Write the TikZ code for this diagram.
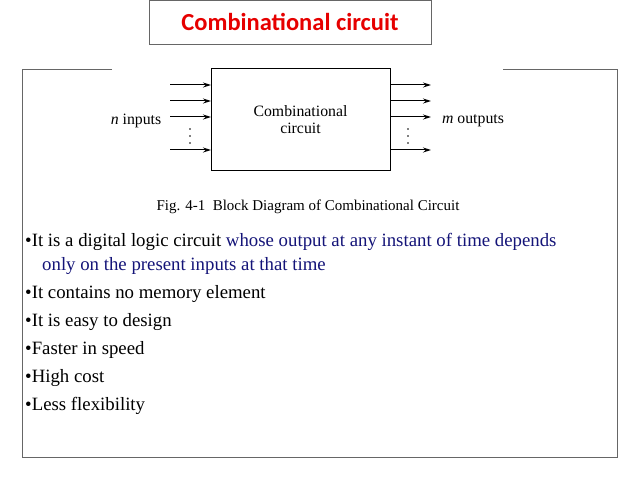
\documentclass[tikz,border=0pt]{standalone}
\usepackage{fontspec}
\usetikzlibrary{arrows.meta}
\setmainfont{Liberation Serif}
\newfontfamily\carl{Carlito}
\definecolor{navy}{RGB}{20,20,120}
\definecolor{tred}{RGB}{230,0,0}
\begin{document}
\begin{tikzpicture}[x=1pt,y=-1pt,
  frm/.style={draw=black!60,line width=0.8pt},
  arr/.style={-{Stealth[length=8pt,width=5pt]},line width=1pt},
  dotc/.style={fill,circle,inner sep=0pt,minimum size=1.6pt},
  bul/.style={anchor=west,inner sep=0pt,font=\fontsize{18.8}{22}\selectfont}]
\useasboundingbox (0,0) rectangle (638,478);
\node[frm,minimum width=282pt,minimum height=44pt,inner sep=0pt] (title) at (290,22) {\carl\bfseries\fontsize{24.5}{28}\selectfont\textcolor{tred}{Combinational circuit}};
\draw[frm] (112,69) -- (22,69) -- (22,457) -- (617,457) -- (617,69) -- (503,69);
\node[draw,line width=1pt,minimum width=179pt,minimum height=102pt,inner sep=0pt,align=center,font=\fontsize{15.8}{17}\selectfont] (cc) at (300.5,120) {Combinational\\circuit};
\foreach \y/\n in {85/a,101/b,117/c,150/d}{
  \coordinate (i\n) at (170,\y); \coordinate (ie\n) at (211,\y);
  \draw[arr] (i\n) -- (ie\n);
  \coordinate (o\n) at (390,\y); \coordinate (oe\n) at (431,\y);
  \draw[arr] (o\n) -- (oe\n);}
\foreach \x/\k in {190/l,408/r}{
  \node[dotc] (\k1) at (\x,129) {};
  \node[dotc] (\k2) at (\x,136) {};
  \node[dotc] (\k3) at (\x,143) {};}
\node (nin) at (136,121) {\fontsize{15.8}{17}\selectfont\textit{n} inputs};
\node (mout) at (473,121) {\fontsize{15.8}{17}\selectfont\textit{m} outputs};
\node (cap) at (308,207) {\fontsize{15}{17}\selectfont Fig. 4-1\ \ Block Diagram of Combinational Circuit};
\node[bul] (b1) at (25,242) {•It is a digital logic circuit \textcolor{navy}{whose output at any instant of time depends}};
\node[bul] (b1b) at (42,266) {\textcolor{navy}{only on the present inputs at that time}};
\node[bul] (b2) at (25,294) {•It contains no memory element};
\node[bul] (b3) at (25,322) {•It is easy to design};
\node[bul] (b4) at (25,350) {•Faster in speed};
\node[bul] (b5) at (25,378) {•High cost};
\node[bul] (b6) at (25,406) {•Less flexibility};
\end{tikzpicture}
\end{document}
